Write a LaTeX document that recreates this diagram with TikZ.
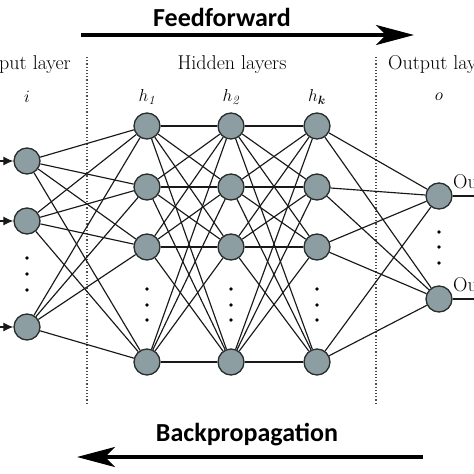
\documentclass[tikz,border=0pt]{standalone}
\usepackage{fontspec}
\usepackage{amsmath,amssymb,bm}
\newfontfamily\calib{Carlito}
\usetikzlibrary{arrows.meta}
\definecolor{nodefill}{RGB}{140,158,161}
\definecolor{nodeline}{RGB}{40,45,45}
\tikzset{
  neuron/.style={circle,draw=nodeline,fill=nodefill,line width=1.3pt,minimum size=26pt,inner sep=0pt},
  conn/.style={line width=1.15pt,black!90},
  vdot/.style={circle,fill=black,minimum size=3.6pt,inner sep=0pt},
  sep/.style={dotted,line width=1.2pt,black!70},
  lbl/.style={font=\fontsize{20}{23}\selectfont,inner sep=0pt},
  mlbl/.style={font=\fontsize{18}{21}\selectfont,inner sep=0pt},
  bigarrow/.style={line width=4pt,-{Stealth[length=38pt,width=20pt,inset=10pt]}},
  bigtxt/.style={font=\calib\bfseries\fontsize{26}{30}\selectfont,inner sep=0pt}
}
\begin{document}
\begin{tikzpicture}[x=1pt,y=-1pt]
\useasboundingbox (0,0) rectangle (474,474);
\fill[white] (0,0) rectangle (474,474);
% separators
\draw[sep] (87,57) -- (87,403);
\draw[sep] (376,57) -- (376,403);
% headings
\node[bigtxt] (ff) at (222,17) {Feedforward};
\coordinate (ffs) at (81,35);
\coordinate (ffe) at (414,35);
\draw[bigarrow] (ffs) -- (ffe);
\node[bigtxt] (bp) at (247,435) {Backpropagation};
\coordinate (bps) at (423,457);
\coordinate (bpe) at (77,457);
\draw[bigarrow] (bps) -- (bpe);
\node[lbl,anchor=east] (il) at (71,65) {Input layer};
\node[lbl] (hl) at (232,65) {Hidden layers};
\node[lbl,anchor=west] (ol) at (388,65) {Output layer};
\node[mlbl] (li) at (27,97) {$i$};
\node[mlbl] (lh1) at (147,97) {$h_{\mathit{1}}$};
\node[mlbl] (lh2) at (231,97) {$h_{\mathit{2}}$};
\node[mlbl] (lhk) at (317,97) {$h_{\bm{k}}$};
\node[mlbl] (lo) at (439,97) {$o$};
% nodes
\foreach \y [count=\j] in {161,221,327} \node[neuron] (i\j) at (27,\y) {};
\foreach \x/\n in {147/a,231/b,317/c}
  \foreach \y [count=\j] in {126,187,247,362} \node[neuron] (\n\j) at (\x,\y) {};
\foreach \y [count=\j] in {196,299} \node[neuron] (o\j) at (439,\y) {};
% dots
\foreach \y [count=\j] in {258,274,290} \node[vdot] (di\j) at (27,\y) {};
\foreach \x/\n in {147/a,231/b,317/c}
  \foreach \y [count=\j] in {289,305,320} \node[vdot] (d\n\j) at (\x,\y) {};
\foreach \y [count=\j] in {232,247,263} \node[vdot] (do\j) at (439,\y) {};
% connections
\foreach \s in {1,2,3} \foreach \t in {1,2,3,4} \draw[conn] (i\s) -- (a\t);
\foreach \s in {1,2,3,4} \foreach \t in {1,2,3,4} {\draw[conn] (a\s) -- (b\t); \draw[conn] (b\s) -- (c\t);}
\foreach \s in {1,2,3,4} \foreach \t in {1,2} \draw[conn] (c\s) -- (o\t);
% input arrows
\foreach \j/\y in {1/161,2/221,3/327} {
  \coordinate (ia\j) at (-2,\y);
  \draw[conn,-{Latex[length=10pt,width=9pt]}] (ia\j) -- (i\j);
}
% outputs
\foreach \j/\y in {1/196,2/299} {
  \coordinate (oa\j) at (480,\y);
  \draw[conn] (o\j) -- (oa\j);
  \node[lbl,anchor=south west] (ot\j) at (453,\y-3) {Output \j};
}
\end{tikzpicture}
\end{document}
